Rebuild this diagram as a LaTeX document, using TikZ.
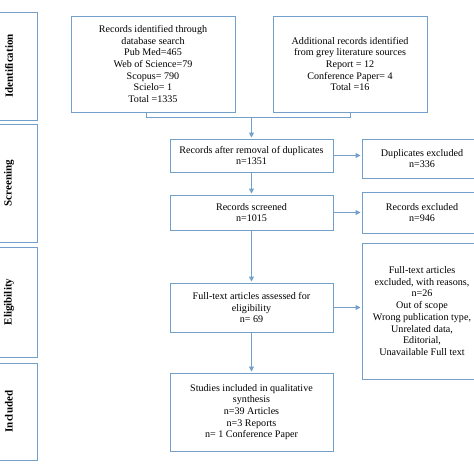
\documentclass[tikz,border=0pt]{standalone}
\usepackage{fontspec}
\setmainfont{Liberation Serif}
\usetikzlibrary{arrows.meta}
\definecolor{boxblue}{RGB}{115,160,203}
\begin{document}
\begin{tikzpicture}[x=1pt,y=-1pt,
  box/.style={draw=boxblue,line width=0.95pt,inner sep=1pt,align=center,
    font=\fontsize{10.1}{11.7}\selectfont,text=black},
  phase/.style={draw=boxblue,line width=0.95pt,inner sep=0pt},
  plabel/.style={rotate=90,font=\fontsize{11}{12}\selectfont\bfseries,text=black},
  conn/.style={draw=boxblue,line width=0.95pt},
  arr/.style={conn,-{Triangle[width=5pt,length=5pt]},shorten >=1pt}]
\useasboundingbox (0,0) rectangle (474,474);
\clip (0,0) rectangle (474,474);
% phase boxes
\node[phase,minimum width=56pt,minimum height=108pt] (p1) at (9,66) {};
\node[plabel] (t1) at (p1.center) {Identification};
\node[phase,minimum width=56pt,minimum height=118pt] (p2) at (9,183) {};
\node[plabel] (t2) at (p2.center) {Screening};
\node[phase,minimum width=56pt,minimum height=110pt] (p3) at (9,302) {};
\node[plabel] (t3) at (p3.center) {Eligibility};
\node[phase,minimum width=56pt,minimum height=97pt] (p4) at (9,411.5) {};
\node[plabel] (t4) at (p4.center) {Included};
% boxes
\node[box,minimum width=164pt,minimum height=96pt] (db) at (153,64) {Records identified through\\database search\\Pub Med=465\\Web of Science=79\\Scopus= 790\\Scielo= 1\\Total =1335};
\node[box,minimum width=154pt,minimum height=96pt] (grey) at (350,64) {Additional records identified\\from grey literature sources\\Report = 12\\Conference Paper= 4\\Total =16};
\node[box,minimum width=163pt,minimum height=33pt] (rem) at (251.5,155.5) {Records after removal of duplicates\\n=1351};
\node[box,minimum width=120pt,minimum height=39pt] (dup) at (422,158.5) {Duplicates excluded\\n=336};
\node[box,minimum width=163pt,minimum height=35pt] (scr) at (251.5,212.5) {Records screened\\n=1015};
\node[box,minimum width=120pt,minimum height=41pt] (rex) at (422,212.5) {Records excluded\\n=946};
\node[box,minimum width=163pt,minimum height=49pt] (ass) at (251.5,307.5) {Full-text articles assessed for\\eligibility\\n= 69};
\node[box,minimum width=120pt,minimum height=136pt] (fex) at (422,311) {Full-text articles\\excluded, with reasons,\\n=26\\Out of scope\\Wrong publication type,\\Unrelated data,\\Editorial,\\Unavailable Full text};
\node[box,minimum width=163pt,minimum height=78pt] (inc) at (251.5,412) {Studies included in qualitative\\synthesis\\n=39 Articles\\n=3 Reports\\n= 1 Conference Paper};
% connectors
\coordinate (j1) at (146,117);
\coordinate (j2) at (350,117);
\draw[conn] (db.south -| j1) -- (j1) -- (j2) -- (grey.south);
\draw[arr] (rem.north |- j1) -- (rem.north);
\draw[arr] (rem.east) -- (dup.west |- rem.east);
\draw[arr] (rem.south) -- (scr.north);
\draw[arr] (scr.east) -- (rex.west |- scr.east);
\draw[arr] (scr.south) -- (ass.north);
\draw[arr] (ass.east) -- (fex.west |- ass.east);
\draw[arr] (ass.south) -- (inc.north);
\end{tikzpicture}
\end{document}
